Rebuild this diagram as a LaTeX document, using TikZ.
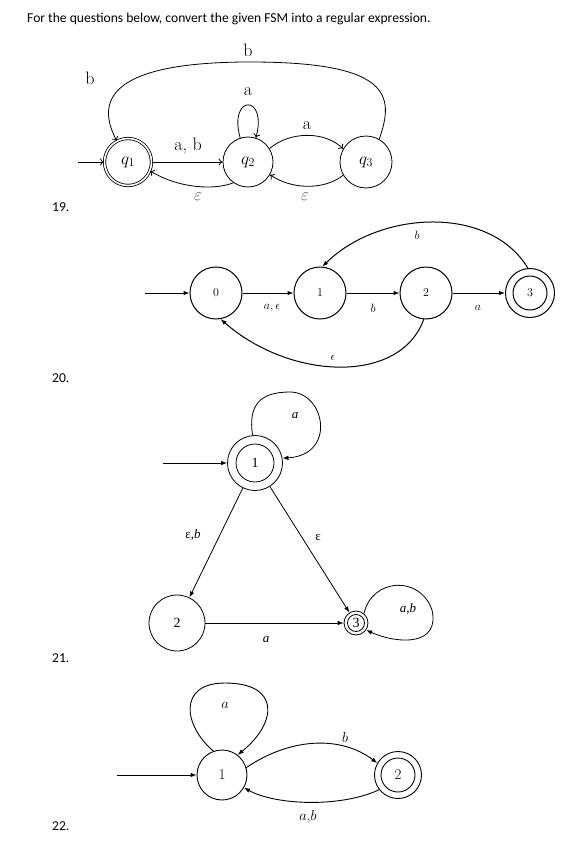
\documentclass[tikz,border=0pt]{standalone}
\usepackage{fontspec}
\newfontfamily\carlito{Carlito}
\newfontfamily\timesf{Liberation Serif}
\usetikzlibrary{arrows.meta}
\definecolor{epsc}{RGB}{95,80,70}
\begin{document}
\begin{tikzpicture}[x=1pt,y=-1pt,
  txt/.style={inner sep=0pt,font=\carlito\fontsize{13.6}{15}\selectfont},
  sA/.style={circle,draw,line width=0.8pt,minimum size=50pt,inner sep=0pt,font=\fontsize{18}{20}\selectfont},
  lA/.style={inner sep=0pt,font=\fontsize{18}{20}\selectfont},
  eA/.style={line width=0.8pt,-{To[length=4pt,width=7pt]}},
  sB/.style={circle,draw,line width=1pt,minimum size=52pt,inner sep=0pt,font=\fontsize{12}{14}\selectfont},
  lB/.style={inner sep=0pt,font=\fontsize{12}{14}\selectfont},
  eB/.style={line width=1pt,-{Latex[length=6pt,width=4.5pt]}},
  sC/.style={circle,draw,line width=0.8pt,inner sep=0pt,font=\timesf\fontsize{14}{16}\selectfont},
  lC/.style={inner sep=0pt,font=\timesf\fontsize{13}{15}\selectfont},
  eC/.style={line width=0.8pt,-{Latex[length=6pt,width=4.5pt]}},
  sD/.style={circle,draw,line width=0.9pt,inner sep=0pt,font=\fontsize{15}{17}\selectfont},
  lD/.style={inner sep=0pt,font=\fontsize{15}{17}\selectfont},
  eD/.style={line width=0.9pt,-{Latex[length=6pt,width=4.5pt]}}
]
\useasboundingbox (0,0) rectangle (574,862);

% title and numbers
\node[txt,anchor=west] (title) at (27,19) {For the questions below, convert the given FSM into a regular expression.};
\node[txt,anchor=west] (n19) at (52,207) {19.};
\node[txt,anchor=west] (n20) at (52,378) {20.};
\node[txt,anchor=west] (n21) at (52,658) {21.};
\node[txt,anchor=west] (n22) at (52,826) {22.};

% ---------- FSM 19 ----------
\node[sA,double,double distance=1.6pt,minimum size=47pt] (q1) at (128,162) {$q_1$};
\node[sA] (q2) at (248,162) {$q_2$};
\node[sA,minimum size=52pt] (q3) at (366,162) {$q_3$};
\coordinate (i19) at (78,162);
\draw[eA] (i19) -- (q1);
\draw[eA] (q1) -- (q2);
\draw[eA] (q2.235) .. controls (215,190) and (180,189) .. (q1.-22);
\draw[eA] (q2.108) .. controls (228,94) and (268,94) .. (q2.72);
\draw[eA] (q2.32) .. controls (290,131) and (325,131) .. (q3.150);
\draw[eA] (q3.210) .. controls (325,190) and (292,190) .. (q2.330);
\draw[eA] (q3.60) .. controls (395,95) and (390,62) .. (250,62) .. controls (110,62) and (95,100) .. (q1.118);
\node[lA] (l19a) at (188,146) {a, b};
\node[lA] (l19b) at (248,92) {a};
\node[lA] (l19c) at (307,126) {a};
\node[lA] (l19d) at (248,50) {b};
\node[lA] (l19e) at (90,78) {b};
\node[lA,text=epsc] (l19f) at (198,197) {$\varepsilon$};
\node[lA,text=epsc] (l19g) at (305,197) {$\varepsilon$};

% ---------- FSM 20 ----------
\node[sB] (s0) at (216,293) {0};
\node[sB] (s1) at (320,293) {1};
\node[sB] (s2) at (426,293) {2};
\node[sB,minimum size=49pt] (s3) at (530,293) {3};
\draw[line width=1pt] (s3) circle[radius=17];
\coordinate (i20) at (145,293);
\draw[eB] (i20) -- (s0);
\draw[eB] (s0) -- (s1);
\draw[eB] (s1) -- (s2);
\draw[eB] (s2) -- (s3);
\draw[eB] (s3.95) .. controls (490,205) and (380,210) .. (s1.85);
\draw[eB] (s2.-95) .. controls (400,385) and (290,380) .. (s0.-80);
\node[lB] (l20a) at (272,308) {$a,\epsilon$};
\node[lB] (l20b) at (373,308) {$b$};
\node[lB] (l20c) at (478,308) {$a$};
\node[lB] (l20d) at (417,235) {$b$};
\node[lB] (l20e) at (333,358) {$\epsilon$};

% ---------- FSM 21 ----------
\node[sC,minimum size=55pt] (t1) at (255,463) {1};
\draw[line width=0.8pt] (t1) circle[radius=19];
\node[sC,minimum size=56pt] (t2) at (177,623) {2};
\node[sC,minimum size=24pt] (t3) at (356,623) {3};
\draw[line width=0.8pt] (t3) circle[radius=8.5];
\coordinate (i21) at (163,463);
\draw[eC] (i21) -- (t1);
\draw[eC] (t1) -- (t2);
\draw[eC] (t1) -- (t3);
\draw[eC] (t2) -- (t3);
\draw[eC] (t1.95) .. controls (248,405) and (260,392) .. (290,392) .. controls (325,392) and (337,455) .. (t1.10);
\draw[eC] (t3.50) .. controls (372,578) and (420,575) .. (432,610) .. controls (440,645) and (400,645) .. (t3.-35);
\node[lC] (l21a) at (295,416) {\textit{a}};
\node[lC] (l21b) at (193,535) {ε,\textit{b}};
\node[lC] (l21c) at (318,537) {ε};
\node[lC] (l21d) at (266,639) {\textit{a}};
\node[lC] (l21e) at (408,609) {\textit{a},\textit{b}};

% ---------- FSM 22 ----------
\node[sD,minimum size=50pt] (u1) at (222,775) {1};
\node[sD,minimum size=47pt] (u2) at (398,775) {2};
\draw[line width=0.9pt] (u2) circle[radius=17];
\coordinate (i22) at (117,775);
\draw[eD] (i22) -- (u1);
\draw[eD] (u1.110) .. controls (183,725) and (178,683) .. (225,683) .. controls (280,683) and (278,722) .. (u1.52);
\draw[eD] (u1.17) .. controls (290,738) and (340,735) .. (u2.150);
\draw[eD] (u2.-142) .. controls (340,808) and (275,805) .. (u1.-30);
\node[lD] (l22a) at (225,705) {$a$};
\node[lD] (l22b) at (345,737) {$b$};
\node[lD] (l22c) at (308,817) {$a$,$b$};
\end{tikzpicture}
\end{document}
